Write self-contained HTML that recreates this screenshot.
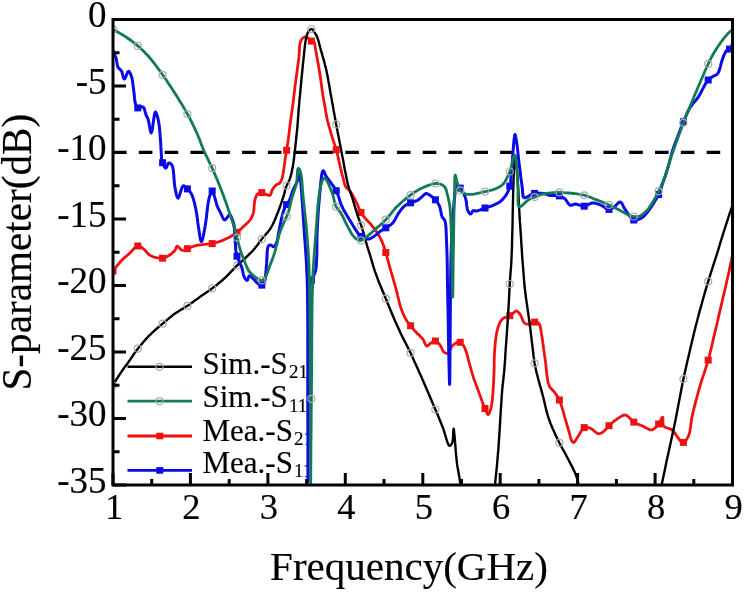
<!DOCTYPE html>
<html><head><meta charset="utf-8"><title>S-parameter vs Frequency</title>
<style>html,body{margin:0;padding:0;background:#fff;width:750px;height:593px;overflow:hidden}svg{display:block}</style>
</head><body>
<svg width="750" height="593" viewBox="0 0 750 593">
<defs><clipPath id="pc"><rect x="113" y="19.5" width="619.5" height="465.5"/></clipPath></defs>
<g font-family="'Liberation Serif','Times New Roman',serif" fill="#000" stroke="#000" stroke-width="0.15">
<text x="202.5" y="374.0" font-size="31">Sim.-S<tspan font-size="19" dx="1.2" dy="4.2">21</tspan></text>
<text x="202.5" y="407.4" font-size="31">Sim.-S<tspan font-size="19" dx="1.2" dy="4.2">11</tspan></text>
<text x="202.5" y="440.9" font-size="31">Mea.-S<tspan font-size="19" dx="1.2" dy="4.2">21</tspan></text>
<text x="202.5" y="472.6" font-size="31">Mea.-S<tspan font-size="19" dx="1.2" dy="4.2">11</tspan></text>
</g>
<line x1="113" y1="152.4" x2="732.5" y2="152.4" stroke="#000" stroke-width="3.2" stroke-dasharray="13.6 12.21"/>
<g clip-path="url(#pc)">
<path d="M113.0 271.0L114.4 269.3L115.7 267.5L117.1 265.7L118.5 264.0L119.9 262.3L121.3 260.7L122.6 259.4L124.0 258.1L125.4 256.9L126.7 255.8L128.1 254.6L129.5 253.4L130.9 252.0L132.3 250.5L133.7 248.9L135.1 247.5L136.4 246.5L137.8 246.0L138.9 246.1L139.9 246.4L141.0 247.0L142.0 247.7L143.0 248.5L144.0 249.3L145.0 250.2L146.0 251.3L146.9 252.5L147.9 253.6L149.0 254.6L150.2 255.5L152.0 256.3L154.1 257.1L156.3 257.6L158.6 258.0L160.7 258.2L162.6 258.2L163.8 258.0L164.9 257.7L165.9 257.2L166.9 256.7L167.8 256.1L168.8 255.5L169.9 254.8L171.1 254.0L172.2 253.1L173.2 252.1L174.2 251.2L175.0 250.3L175.5 249.5L175.8 248.7L176.1 247.8L176.3 247.1L176.7 246.5L177.1 246.2L177.8 246.4L178.6 247.1L179.4 248.0L180.3 249.0L181.3 249.9L182.2 250.3L183.1 250.3L184.0 250.1L184.9 249.8L185.8 249.3L186.8 248.9L187.8 248.5L189.3 248.0L190.8 247.4L192.4 246.8L194.1 246.2L195.9 245.7L197.7 245.2L200.0 244.8L202.4 244.6L204.9 244.4L207.4 244.2L209.8 244.0L212.2 243.6L214.3 243.1L216.4 242.5L218.5 241.9L220.6 241.2L222.6 240.4L224.6 239.5L226.7 238.5L228.9 237.4L231.1 236.2L233.2 234.9L235.1 233.6L237.0 232.3L238.5 231.2L239.9 230.0L241.2 228.8L242.4 227.6L243.6 226.4L244.8 225.3L245.8 224.4L246.7 223.5L247.6 222.7L248.5 221.8L249.3 220.9L250.0 220.0L250.7 219.0L251.3 218.1L251.8 217.0L252.3 216.0L252.8 214.8L253.2 213.6L253.6 211.7L253.9 209.5L254.1 207.2L254.2 204.9L254.5 202.7L254.8 200.8L255.1 199.5L255.4 198.3L255.8 197.2L256.2 196.1L256.6 195.2L257.2 194.4L257.8 193.9L258.4 193.4L259.1 193.0L259.8 192.8L260.5 192.6L261.2 192.5L262.0 192.6L262.8 192.9L263.6 193.3L264.4 193.7L265.2 194.1L266.0 194.4L266.7 194.6L267.4 194.9L268.1 195.2L268.8 195.3L269.4 195.4L270.0 195.2L270.5 194.7L270.9 193.8L271.3 192.8L271.6 191.7L271.9 190.6L272.4 189.6L273.0 188.7L273.6 187.8L274.3 187.0L275.0 186.1L275.7 185.4L276.4 184.8L276.9 184.5L277.5 184.2L278.1 184.0L278.6 183.8L279.1 183.6L279.6 183.2L280.1 182.6L280.6 181.9L281.0 181.1L281.3 180.2L281.7 179.3L282.0 178.4L282.4 177.2L282.7 175.9L282.9 174.6L283.2 173.2L283.4 171.8L283.6 170.4L283.8 168.9L284.1 167.3L284.3 165.7L284.5 164.0L284.7 162.4L284.9 160.8L285.1 159.2L285.4 157.6L285.7 155.9L285.9 154.3L286.2 152.6L286.5 150.9L286.8 148.9L287.1 146.9L287.4 144.9L287.8 142.8L288.1 140.7L288.4 138.4L288.8 135.4L289.2 132.1L289.6 128.7L290.0 125.4L290.4 122.2L290.8 119.2L291.1 117.2L291.3 115.4L291.6 113.7L291.8 111.9L292.1 110.0L292.4 107.9L292.9 104.2L293.4 100.0L293.9 95.6L294.5 91.0L295.0 86.4L295.6 82.0L296.1 77.9L296.7 73.8L297.3 69.6L297.8 65.6L298.3 61.7L298.8 58.0L299.1 55.0L299.3 52.0L299.4 49.1L299.6 46.4L299.9 44.0L300.4 42.0L300.7 41.1L301.1 40.3L301.4 39.6L301.9 39.0L302.3 38.5L302.8 38.0L303.3 37.7L303.8 37.4L304.3 37.1L304.9 36.9L305.4 36.9L306.0 36.9L306.9 37.3L307.9 38.0L308.9 38.8L309.8 39.8L310.8 40.6L311.6 41.2L312.1 41.4L312.5 41.5L312.9 41.5L313.3 41.6L313.7 41.7L314.0 42.0L314.5 42.8L314.8 44.0L315.0 45.4L315.2 46.9L315.4 48.5L315.6 50.0L316.0 52.0L316.4 54.0L316.8 56.2L317.2 58.4L317.6 60.6L318.0 62.8L318.4 65.1L318.8 67.5L319.2 69.9L319.6 72.3L320.0 74.7L320.4 77.2L320.8 80.1L321.2 83.0L321.6 86.1L322.0 89.1L322.4 92.0L322.8 94.8L323.2 97.1L323.6 99.4L324.0 101.6L324.4 103.8L324.8 105.9L325.2 107.9L325.5 109.6L325.7 111.1L325.9 112.7L326.2 114.2L326.4 115.8L326.8 117.6L327.4 120.3L328.2 123.1L329.0 126.2L329.9 129.2L330.7 132.3L331.6 135.2L332.4 137.8L333.2 140.4L334.1 142.9L334.9 145.4L335.7 147.9L336.4 150.4L337.0 152.7L337.6 155.0L338.1 157.3L338.6 159.5L339.1 161.8L339.6 164.0L340.1 166.2L340.6 168.3L341.2 170.5L341.7 172.7L342.2 174.8L342.8 176.8L343.3 178.7L343.8 180.6L344.2 182.5L344.7 184.3L345.3 185.9L346.0 187.2L346.5 187.8L347.0 188.2L347.5 188.6L348.1 189.0L348.6 189.4L349.2 190.0L350.2 191.3L351.3 193.0L352.4 194.8L353.5 196.8L354.6 198.8L355.6 200.8L356.7 202.9L357.7 205.2L358.6 207.5L359.6 209.7L360.6 211.8L361.7 213.7L362.5 214.9L363.4 216.1L364.3 217.1L365.1 218.1L366.0 219.1L366.8 220.0L367.4 220.7L368.0 221.3L368.6 221.9L369.2 222.5L369.8 223.1L370.5 223.9L371.7 225.4L373.1 227.2L374.6 229.2L376.1 231.2L377.4 233.2L378.6 235.0L379.4 236.4L380.1 237.7L380.8 239.1L381.4 240.4L382.0 241.7L382.6 243.1L383.2 244.6L383.7 246.0L384.2 247.5L384.7 249.1L385.2 250.6L385.7 252.2L386.2 254.0L386.7 255.8L387.2 257.7L387.7 259.6L388.2 261.5L388.7 263.4L389.3 265.5L389.9 267.6L390.5 269.7L391.1 271.9L391.8 274.0L392.4 276.2L393.1 278.5L393.7 280.8L394.4 283.2L395.1 285.6L395.7 288.0L396.4 290.4L397.1 293.1L397.7 295.8L398.4 298.6L399.0 301.4L399.7 304.0L400.5 306.6L401.2 308.8L402.0 310.9L402.8 313.0L403.7 315.0L404.6 316.9L405.5 318.7L406.3 320.0L407.1 321.3L407.9 322.4L408.8 323.5L409.7 324.7L410.6 325.8L411.6 327.0L412.6 328.2L413.6 329.4L414.6 330.6L415.7 331.8L416.7 332.9L417.7 333.9L418.8 334.9L419.9 335.9L420.9 336.9L421.9 337.9L422.8 339.0L423.6 340.2L424.2 341.7L424.8 343.2L425.4 344.5L426.1 345.5L426.8 346.0L427.4 345.9L428.1 345.5L428.8 344.9L429.5 344.2L430.2 343.5L430.9 343.0L431.6 342.6L432.3 342.1L433.1 341.6L433.8 341.2L434.6 341.0L435.3 341.0L436.1 341.3L436.9 341.8L437.7 342.5L438.5 343.3L439.3 344.1L440.0 345.0L440.7 346.1L441.4 347.4L442.0 348.8L442.6 350.1L443.2 351.3L444.0 352.1L444.6 352.5L445.3 352.9L446.0 353.1L446.8 353.3L447.5 353.3L448.1 353.1L448.8 352.5L449.5 351.3L450.0 350.0L450.6 348.5L451.3 347.1L452.1 346.0L453.1 345.0L454.3 344.1L455.6 343.2L456.8 342.5L458.1 342.1L459.2 342.0L460.2 342.3L461.1 342.9L461.9 343.7L462.8 344.7L463.6 345.8L464.3 347.0L465.3 349.1L466.2 351.7L467.1 354.5L467.8 357.5L468.5 360.4L469.3 363.2L470.0 365.7L470.7 368.2L471.4 370.7L472.1 373.1L472.8 375.3L473.4 377.4L473.8 378.7L474.2 379.8L474.6 380.8L475.0 381.8L475.4 383.0L475.9 384.2L476.7 386.3L477.5 388.6L478.4 391.1L479.3 393.6L480.2 396.0L481.0 398.3L481.7 400.1L482.4 401.9L483.0 403.7L483.7 405.4L484.3 407.0L485.0 408.5L485.5 409.7L486.0 411.1L486.6 412.4L487.1 413.5L487.6 414.2L488.1 414.5L488.6 414.2L489.2 413.3L489.7 412.0L490.2 410.5L490.7 408.9L491.1 407.4L491.6 405.0L492.0 402.3L492.4 399.4L492.6 396.3L492.9 393.2L493.1 390.2L493.3 386.9L493.5 383.6L493.7 380.2L493.8 376.7L494.0 373.3L494.1 370.0L494.2 366.8L494.2 363.7L494.2 360.6L494.3 357.5L494.4 354.3L494.6 351.1L494.9 347.4L495.2 343.4L495.7 339.4L496.2 335.6L496.8 332.0L497.6 328.8L498.2 326.8L498.9 325.0L499.6 323.2L500.4 321.7L501.3 320.3L502.3 319.1L503.3 318.3L504.5 317.7L505.8 317.3L507.1 316.9L508.3 316.5L509.4 316.0L510.2 315.5L510.9 315.0L511.5 314.5L512.2 314.0L512.8 313.5L513.4 313.0L513.9 312.6L514.4 312.1L514.9 311.7L515.4 311.3L515.9 311.1L516.4 311.0L517.1 311.2L517.8 311.7L518.5 312.4L519.2 313.2L519.9 314.1L520.5 315.0L521.2 316.2L521.8 317.7L522.4 319.3L523.0 320.9L523.7 322.2L524.5 323.1L525.1 323.5L525.8 323.8L526.4 324.0L527.1 324.1L527.9 324.1L528.6 324.1L529.6 323.9L530.6 323.6L531.7 323.1L532.7 322.6L533.7 322.3L534.7 322.1L535.4 322.1L536.2 322.1L536.9 322.2L537.5 322.4L538.1 322.7L538.7 323.1L539.5 324.3L540.1 326.1L540.6 328.3L541.0 330.6L541.3 333.0L541.7 335.3L542.1 337.7L542.5 340.2L542.8 342.7L543.2 345.2L543.5 347.7L543.8 350.0L544.1 351.8L544.3 353.4L544.5 355.0L544.8 356.6L545.0 358.3L545.3 360.3L545.8 364.1L546.2 368.6L546.7 373.4L547.3 378.1L548.1 382.3L549.1 385.6L549.8 387.0L550.7 388.1L551.5 389.1L552.4 389.9L553.3 390.9L554.2 391.9L555.1 393.1L556.0 394.3L556.8 395.5L557.7 396.8L558.5 398.1L559.2 399.5L560.0 401.2L560.6 403.0L561.2 404.9L561.8 406.8L562.4 408.8L563.0 410.9L563.8 413.6L564.6 416.6L565.5 419.6L566.3 422.7L567.2 425.7L568.1 428.6L568.9 431.3L569.7 434.3L570.5 437.3L571.3 439.9L572.2 441.7L573.2 442.5L574.0 442.3L574.8 441.5L575.6 440.3L576.5 438.9L577.3 437.5L578.2 436.2L579.2 434.7L580.2 432.9L581.2 431.1L582.3 429.4L583.4 428.1L584.6 427.3L585.6 427.1L586.6 427.1L587.7 427.3L588.8 427.7L589.8 428.1L590.9 428.6L592.2 429.3L593.5 430.3L594.8 431.5L596.1 432.5L597.3 433.3L598.5 433.7L599.4 433.7L600.2 433.5L601.1 433.1L601.9 432.7L602.7 432.1L603.5 431.6L604.4 430.9L605.2 430.0L606.0 429.1L606.8 428.1L607.7 427.1L608.6 426.1L609.7 425.0L611.0 423.9L612.2 422.8L613.5 421.7L614.8 420.7L616.2 419.7L617.6 418.7L619.2 417.6L620.7 416.6L622.3 415.7L623.8 415.2L625.1 415.0L626.0 415.2L626.9 415.7L627.8 416.3L628.6 417.1L629.3 417.8L630.1 418.5L630.8 419.1L631.4 419.8L632.0 420.4L632.6 421.1L633.2 421.7L634.0 422.3L635.2 423.0L636.6 423.7L638.1 424.3L639.7 424.9L641.3 425.5L642.8 426.1L644.3 426.9L645.8 427.7L647.4 428.6L648.9 429.4L650.3 429.8L651.7 429.9L653.0 429.5L654.2 428.7L655.4 427.7L656.5 426.5L657.5 425.3L658.5 424.1L659.4 422.9L660.1 421.3L660.9 419.8L661.5 418.4L662.1 417.5L662.6 417.2L662.9 417.8L662.9 419.1L662.9 420.9L662.9 422.9L663.1 424.7L663.6 426.1L664.6 427.0L665.9 427.6L667.4 428.0L668.9 428.5L670.5 429.1L672.0 429.9L673.9 431.8L675.8 434.4L677.6 437.2L679.5 439.8L681.2 441.7L682.8 442.5L683.9 442.2L684.9 441.5L685.9 440.5L686.8 439.2L687.6 437.7L688.4 436.2L689.4 433.6L690.0 430.5L690.5 427.1L691.0 423.5L691.5 419.7L692.2 416.0L693.3 411.3L694.5 406.3L695.8 401.2L697.2 396.0L698.6 390.9L700.0 386.0L701.3 381.7L702.6 377.6L704.0 373.6L705.3 369.5L706.6 365.4L707.9 361.2L709.2 356.5L710.4 351.7L711.6 346.8L712.7 341.9L713.8 336.9L715.0 332.0L716.2 327.0L717.4 322.0L718.5 316.9L719.7 311.9L720.9 306.9L722.0 302.0L723.0 297.5L724.1 293.1L725.1 288.8L726.1 284.5L727.0 280.2L728.0 276.0L728.9 272.1L729.7 268.2L730.5 264.4L731.4 260.6L732.2 256.8L733.0 253.0" fill="none" stroke="#ee1111" stroke-width="2.8" stroke-linejoin="round" stroke-linecap="round"/>
<rect x="109.5" y="267.5" width="7" height="7" fill="#ee1111"/>
<rect x="134.3" y="242.5" width="7" height="7" fill="#ee1111"/>
<rect x="159.1" y="254.7" width="7" height="7" fill="#ee1111"/>
<rect x="183.9" y="245.2" width="7" height="7" fill="#ee1111"/>
<rect x="208.7" y="240.1" width="7" height="7" fill="#ee1111"/>
<rect x="233.5" y="228.8" width="7" height="7" fill="#ee1111"/>
<rect x="258.3" y="189.1" width="7" height="7" fill="#ee1111"/>
<rect x="283.1" y="146.8" width="7" height="7" fill="#ee1111"/>
<rect x="307.9" y="37.6" width="7" height="7" fill="#ee1111"/>
<rect x="332.7" y="146.2" width="7" height="7" fill="#ee1111"/>
<rect x="357.5" y="209.0" width="7" height="7" fill="#ee1111"/>
<rect x="382.3" y="249.0" width="7" height="7" fill="#ee1111"/>
<rect x="407.1" y="322.3" width="7" height="7" fill="#ee1111"/>
<rect x="431.9" y="337.5" width="7" height="7" fill="#ee1111"/>
<rect x="456.7" y="338.8" width="7" height="7" fill="#ee1111"/>
<rect x="481.5" y="405.0" width="7" height="7" fill="#ee1111"/>
<rect x="506.3" y="312.2" width="7" height="7" fill="#ee1111"/>
<rect x="531.1" y="318.6" width="7" height="7" fill="#ee1111"/>
<rect x="555.9" y="396.5" width="7" height="7" fill="#ee1111"/>
<rect x="580.7" y="424.1" width="7" height="7" fill="#ee1111"/>
<rect x="605.5" y="422.2" width="7" height="7" fill="#ee1111"/>
<rect x="630.3" y="418.6" width="7" height="7" fill="#ee1111"/>
<rect x="655.1" y="420.5" width="7" height="7" fill="#ee1111"/>
<rect x="679.9" y="438.9" width="7" height="7" fill="#ee1111"/>
<rect x="704.7" y="356.6" width="7" height="7" fill="#ee1111"/>
<path d="M113.0 385.5L113.9 384.0L114.8 382.5L115.6 381.0L116.5 379.4L117.4 378.0L118.3 376.5L119.2 375.1L120.1 373.8L121.0 372.4L121.9 371.1L122.8 369.8L123.7 368.5L124.5 367.4L125.3 366.3L126.1 365.2L126.9 364.2L127.8 363.0L128.7 361.8L130.0 359.9L131.4 357.8L132.9 355.7L134.4 353.4L136.0 351.2L137.6 349.0L139.5 346.6L141.5 344.2L143.6 341.8L145.7 339.4L147.8 337.0L150.0 334.8L152.1 332.8L154.2 330.8L156.3 329.0L158.5 327.1L160.7 325.3L162.8 323.5L164.8 321.8L166.8 320.1L168.9 318.4L170.9 316.7L172.9 315.1L175.0 313.6L177.0 312.2L179.1 310.9L181.2 309.6L183.3 308.4L185.4 307.1L187.5 305.8L189.6 304.4L191.6 302.9L193.7 301.4L195.7 299.9L197.8 298.5L199.8 297.0L201.8 295.6L203.9 294.2L205.9 292.8L207.9 291.4L210.0 290.0L212.0 288.5L214.1 286.9L216.3 285.2L218.4 283.5L220.5 281.8L222.6 280.0L224.6 278.2L226.6 276.3L228.5 274.3L230.4 272.3L232.3 270.3L234.2 268.3L236.0 266.5L237.6 265.0L239.2 263.5L240.7 262.1L242.3 260.8L243.8 259.4L245.3 258.0L246.7 256.7L248.1 255.3L249.5 254.0L250.9 252.6L252.3 251.3L253.6 249.8L254.9 248.2L256.2 246.6L257.5 244.9L258.7 243.2L260.0 241.4L261.3 239.7L262.8 237.8L264.5 236.0L266.1 234.1L267.8 232.1L269.4 230.1L270.8 228.0L272.2 225.5L273.5 222.9L274.7 220.2L275.8 217.5L276.9 214.7L278.0 212.0L279.0 209.3L280.1 206.5L281.1 203.7L282.0 201.0L282.8 198.4L283.6 196.0L284.1 194.4L284.5 192.9L284.8 191.4L285.1 190.0L285.5 188.6L286.0 187.2L286.6 185.7L287.3 184.3L288.0 182.9L288.7 181.5L289.4 180.0L290.0 178.4L290.7 176.2L291.3 173.9L291.8 171.4L292.3 168.9L292.8 166.4L293.2 164.0L293.5 161.9L293.8 159.8L294.1 157.8L294.3 155.7L294.5 153.5L294.8 151.2L295.2 147.8L295.6 144.2L296.0 140.3L296.4 136.4L296.8 132.6L297.2 128.8L297.5 125.3L297.8 121.9L298.0 118.4L298.3 115.0L298.5 111.5L298.8 107.9L299.2 103.7L299.5 99.4L300.0 95.1L300.4 90.7L300.8 86.3L301.2 82.0L301.6 77.9L302.0 73.8L302.4 69.8L302.8 65.8L303.2 61.8L303.6 58.0L304.0 54.6L304.3 51.1L304.7 47.7L305.1 44.4L305.5 41.4L306.0 38.8L306.3 37.3L306.7 36.0L307.1 34.7L307.5 33.5L307.9 32.5L308.4 31.6L308.8 31.1L309.2 30.6L309.6 30.2L310.0 29.8L310.4 29.5L310.8 29.3L311.0 29.2L311.2 29.1L311.4 29.0L311.6 29.0L311.8 29.0L312.0 29.0L312.3 29.2L312.7 29.5L313.0 30.0L313.3 30.5L313.7 31.1L314.0 31.6L314.5 32.4L315.1 33.2L315.6 34.1L316.2 35.1L316.7 36.1L317.2 37.2L317.8 38.8L318.4 40.6L318.9 42.5L319.4 44.5L319.9 46.5L320.4 48.4L320.9 50.3L321.5 52.1L322.0 53.9L322.5 55.8L323.1 57.7L323.6 59.6L324.2 61.7L324.7 63.7L325.2 65.8L325.8 67.9L326.3 70.1L326.8 72.4L327.4 75.2L327.9 78.0L328.4 81.0L329.0 84.0L329.5 87.0L330.0 90.0L330.5 93.0L331.1 96.0L331.6 98.9L332.1 101.9L332.7 104.9L333.2 107.9L333.7 110.9L334.3 113.9L334.8 116.9L335.4 120.0L335.9 123.0L336.5 126.0L337.1 129.0L337.6 131.9L338.2 134.9L338.8 137.8L339.4 140.9L340.0 144.0L340.7 147.8L341.5 151.9L342.3 156.1L343.1 160.1L343.8 163.9L344.4 167.2L344.7 169.0L345.0 170.5L345.3 172.0L345.6 173.4L345.9 174.8L346.2 176.3L346.5 177.9L346.9 179.6L347.2 181.3L347.6 183.0L348.0 184.7L348.4 186.4L349.0 188.3L349.6 190.2L350.3 192.2L351.0 194.1L351.7 196.1L352.3 198.0L352.9 199.9L353.4 201.7L354.0 203.6L354.5 205.4L355.1 207.3L355.6 209.0L356.1 210.5L356.5 211.9L356.9 213.2L357.3 214.6L357.8 216.0L358.3 217.5L359.0 219.4L359.7 221.4L360.4 223.4L361.2 225.5L361.9 227.7L362.6 229.8L363.3 232.1L364.0 234.5L364.6 236.9L365.3 239.3L365.9 241.7L366.6 244.0L367.2 246.1L367.8 248.0L368.4 250.0L369.1 252.0L369.7 254.0L370.3 256.0L371.0 258.3L371.7 260.7L372.4 263.1L373.1 265.5L373.8 267.8L374.5 270.0L375.1 271.8L375.7 273.4L376.3 275.0L376.9 276.7L377.5 278.4L378.2 280.2L379.2 282.8L380.4 285.6L381.6 288.5L382.8 291.5L384.1 294.5L385.3 297.4L386.5 300.3L387.6 303.2L388.8 306.0L390.0 308.9L391.2 311.8L392.4 314.7L393.7 317.7L395.0 320.7L396.3 323.7L397.7 326.8L399.1 329.8L400.5 332.9L402.1 336.2L403.8 339.6L405.6 343.0L407.3 346.4L409.0 349.8L410.6 353.1L412.0 356.1L413.3 359.0L414.6 361.9L415.9 364.7L417.2 367.6L418.5 370.5L419.8 373.4L421.1 376.3L422.4 379.2L423.7 382.2L425.0 385.2L426.3 388.2L427.8 391.7L429.3 395.2L430.9 398.9L432.4 402.5L433.9 406.1L435.4 409.5L436.6 412.5L437.9 415.3L439.0 418.1L440.2 421.0L441.3 423.8L442.5 426.7L443.7 430.2L445.0 434.3L446.2 438.5L447.4 442.1L448.5 444.8L449.6 445.9L450.1 445.8L450.5 445.5L451.0 445.0L451.4 444.4L451.8 443.7L452.2 442.9L452.7 440.8L453.0 437.9L453.2 434.7L453.3 431.7L453.4 429.6L453.6 428.7L453.8 429.4L454.1 431.3L454.3 433.9L454.6 437.0L454.9 440.1L455.1 442.9L455.4 445.8L455.6 448.8L455.8 451.9L456.1 455.0L456.4 458.0L456.7 461.1L457.1 464.2L457.6 467.4L458.2 470.5L458.7 473.6L459.2 476.5L459.7 479.3L460.0 481.2L460.3 483.1L460.6 484.8L460.9 486.5L461.2 488.2L461.5 490.0M494.5 490.0L494.6 489.1L494.7 488.2L494.8 487.3L494.9 486.4L495.0 485.3L495.1 484.0L495.5 480.0L496.0 474.9L496.6 469.1L497.2 462.9L497.7 456.7L498.2 451.0L498.6 445.9L498.9 440.8L499.3 435.7L499.6 430.7L499.9 425.7L500.2 420.6L500.5 415.5L500.8 410.2L501.2 405.0L501.5 399.9L501.8 394.9L502.2 390.2L502.5 386.6L502.9 383.2L503.3 380.0L503.6 376.7L504.0 373.4L504.3 370.0L504.6 366.0L504.9 362.0L505.2 357.9L505.4 353.7L505.7 349.4L506.0 345.0L506.4 339.6L506.8 334.0L507.2 328.2L507.6 322.4L507.9 316.6L508.3 311.0L508.6 305.8L508.9 300.5L509.2 295.3L509.4 290.2L509.7 285.3L510.0 280.6L510.2 277.0L510.5 273.7L510.7 270.5L511.0 267.3L511.2 264.0L511.4 260.4L511.6 255.8L511.8 251.0L512.0 246.0L512.1 240.9L512.2 235.6L512.4 230.0L512.6 222.3L512.7 213.8L512.9 205.0L513.1 196.3L513.3 188.1L513.5 180.7L513.7 175.6L513.9 170.2L514.1 165.0L514.3 160.6L514.6 157.5L514.9 156.4L515.2 157.0L515.6 158.7L515.9 161.2L516.3 164.2L516.7 167.4L517.0 170.6L517.5 177.1L518.0 185.2L518.5 194.0L518.9 202.8L519.3 210.8L519.6 217.2L519.8 219.7L519.9 221.9L520.1 223.8L520.2 225.6L520.3 227.6L520.5 230.0L520.8 234.3L521.1 239.2L521.4 244.4L521.8 249.8L522.1 255.2L522.5 260.4L522.9 265.5L523.3 270.6L523.7 275.7L524.1 280.8L524.5 285.5L525.0 290.0L525.4 293.1L525.7 296.0L526.1 298.8L526.5 301.5L526.9 304.3L527.3 307.0L527.7 309.7L528.1 312.3L528.4 314.9L528.8 317.5L529.2 320.2L529.6 323.0L530.0 326.5L530.5 330.1L530.9 333.8L531.4 337.6L531.8 341.3L532.3 345.0L532.7 348.5L533.1 352.0L533.5 355.5L534.0 359.0L534.4 362.4L535.0 365.6L535.6 368.3L536.2 370.9L536.8 373.5L537.5 376.0L538.1 378.5L538.8 381.0L539.4 383.4L540.0 385.6L540.7 387.9L541.3 390.2L542.0 392.6L542.7 395.2L543.7 399.0L544.6 403.0L545.6 407.3L546.7 411.6L547.9 415.9L549.2 420.0L550.7 423.9L552.3 427.8L554.0 431.6L555.7 435.4L557.5 439.0L559.2 442.5L560.7 445.4L562.2 448.2L563.7 450.8L565.2 453.5L566.6 456.2L568.1 459.0L569.7 462.1L571.4 465.4L573.0 468.6L574.6 471.9L575.9 475.0L577.0 478.0L577.6 480.1L578.0 482.2L578.3 484.1L578.5 486.1L578.7 488.0L579.0 490.0M660.5 490.0L660.7 489.1L660.9 488.2L661.1 487.3L661.3 486.3L661.5 485.3L661.8 484.0L662.6 480.3L663.6 475.8L664.7 470.5L665.8 465.0L667.0 459.3L668.2 453.9L669.4 448.2L670.7 442.4L672.0 436.4L673.3 430.5L674.6 424.5L675.8 418.5L677.0 412.3L678.2 405.9L679.4 399.6L680.6 393.3L681.8 387.1L683.0 381.0L684.1 375.7L685.3 370.5L686.4 365.4L687.6 360.3L688.8 355.2L690.0 350.0L691.3 344.3L692.7 338.6L694.1 332.8L695.5 327.0L697.0 321.2L698.5 315.5L700.0 309.9L701.6 304.3L703.1 298.7L704.7 293.1L706.3 287.7L707.9 282.4L709.3 277.8L710.7 273.3L712.1 269.0L713.5 264.6L714.9 260.3L716.3 256.0L717.6 251.8L718.9 247.6L720.1 243.5L721.4 239.3L722.7 235.2L724.0 231.0L725.4 226.7L726.8 222.4L728.2 218.0L729.6 213.7L731.1 209.3L732.5 205.0" fill="none" stroke="#000000" stroke-width="2.4" stroke-linejoin="round" stroke-linecap="round"/>
<circle cx="113.0" cy="385.5" r="3.5" fill="none" stroke="#ababab" stroke-width="1.2"/>
<circle cx="137.8" cy="348.7" r="3.5" fill="none" stroke="#ababab" stroke-width="1.2"/>
<circle cx="162.6" cy="323.7" r="3.5" fill="none" stroke="#ababab" stroke-width="1.2"/>
<circle cx="187.4" cy="305.9" r="3.5" fill="none" stroke="#ababab" stroke-width="1.2"/>
<circle cx="212.2" cy="288.3" r="3.5" fill="none" stroke="#ababab" stroke-width="1.2"/>
<circle cx="237.0" cy="265.6" r="3.5" fill="none" stroke="#ababab" stroke-width="1.2"/>
<circle cx="261.8" cy="239.1" r="3.5" fill="none" stroke="#ababab" stroke-width="1.2"/>
<circle cx="286.6" cy="185.7" r="3.5" fill="none" stroke="#ababab" stroke-width="1.2"/>
<circle cx="311.4" cy="29.0" r="3.5" fill="none" stroke="#ababab" stroke-width="1.2"/>
<circle cx="336.2" cy="124.4" r="3.5" fill="none" stroke="#ababab" stroke-width="1.2"/>
<circle cx="361.0" cy="225.1" r="3.5" fill="none" stroke="#ababab" stroke-width="1.2"/>
<circle cx="385.8" cy="298.6" r="3.5" fill="none" stroke="#ababab" stroke-width="1.2"/>
<circle cx="410.6" cy="353.1" r="3.5" fill="none" stroke="#ababab" stroke-width="1.2"/>
<circle cx="435.4" cy="409.5" r="3.5" fill="none" stroke="#ababab" stroke-width="1.2"/>
<circle cx="509.8" cy="284.0" r="3.5" fill="none" stroke="#ababab" stroke-width="1.2"/>
<circle cx="534.6" cy="363.3" r="3.5" fill="none" stroke="#ababab" stroke-width="1.2"/>
<circle cx="559.4" cy="442.9" r="3.5" fill="none" stroke="#ababab" stroke-width="1.2"/>
<circle cx="683.4" cy="379.1" r="3.5" fill="none" stroke="#ababab" stroke-width="1.2"/>
<circle cx="708.2" cy="281.4" r="3.5" fill="none" stroke="#ababab" stroke-width="1.2"/>
<path d="M113.5 51.0L113.6 51.3L113.6 51.7L113.7 52.0L113.8 52.3L113.9 52.7L114.0 53.1L114.3 53.8L114.6 54.6L115.0 55.5L115.4 56.4L115.8 57.3L116.1 58.3L116.5 59.8L116.7 61.4L117.0 63.1L117.3 64.8L117.7 66.3L118.2 67.6L118.6 68.2L119.2 68.7L119.7 69.2L120.3 69.6L120.8 70.1L121.3 70.7L121.9 72.0L122.4 73.7L122.9 75.6L123.3 77.3L123.8 78.5L124.4 79.0L125.0 78.5L125.7 77.0L126.4 75.2L127.1 73.3L127.8 71.9L128.5 71.3L129.1 71.5L129.6 72.2L130.2 73.2L130.7 74.4L131.2 75.7L131.6 76.9L132.1 78.8L132.5 80.9L132.8 83.2L133.1 85.6L133.4 88.0L133.7 90.3L134.0 92.8L134.3 95.5L134.5 98.2L134.8 100.8L135.2 103.0L135.7 104.8L136.0 105.5L136.3 106.2L136.6 106.8L136.9 107.2L137.3 107.6L137.8 107.9L138.5 108.0L139.4 107.7L140.4 107.3L141.3 106.9L142.2 106.8L143.0 106.9L143.8 107.7L144.3 108.9L144.8 110.5L145.2 112.2L145.7 113.8L146.1 115.1L146.4 115.9L146.8 116.5L147.1 117.1L147.5 117.8L147.8 118.5L148.1 119.3L148.6 121.4L149.2 124.3L149.7 127.4L150.2 130.2L150.7 132.2L151.2 133.0L151.9 131.4L152.6 127.6L153.2 122.5L154.0 117.5L154.7 113.6L155.4 112.0L155.9 112.4L156.5 113.6L157.0 115.2L157.6 117.2L158.1 119.3L158.5 121.3L159.0 124.0L159.4 127.0L159.7 130.2L160.0 133.5L160.2 136.8L160.5 140.0L160.7 143.4L160.9 147.0L161.1 150.6L161.3 154.0L161.4 156.8L161.6 158.9L161.7 159.4L161.7 159.7L161.7 160.0L161.8 160.3L161.9 160.6L162.0 161.0L162.4 162.1L163.0 163.6L163.6 165.2L164.3 166.7L165.0 167.8L165.7 168.2L166.2 167.8L166.7 166.9L167.2 165.7L167.7 164.5L168.2 163.5L168.8 163.0L169.3 163.0L169.8 163.1L170.4 163.5L170.9 163.9L171.4 164.5L171.9 165.1L172.8 167.6L173.4 171.2L173.8 175.5L174.1 180.1L174.5 184.3L175.0 187.9L175.5 190.1L175.9 192.4L176.4 194.6L176.9 196.4L177.5 197.7L178.1 198.2L178.8 197.3L179.6 195.1L180.5 192.2L181.4 189.3L182.3 186.9L183.3 185.8L183.9 185.8L184.6 186.2L185.3 186.7L186.0 187.5L186.7 188.2L187.4 188.9L188.1 189.6L188.8 190.4L189.6 191.2L190.2 192.0L190.9 193.0L191.5 194.1L192.4 196.0L193.1 198.2L193.8 200.6L194.5 203.2L195.1 205.8L195.7 208.5L196.3 211.8L196.9 215.3L197.4 218.9L197.8 222.5L198.3 226.0L198.8 229.2L199.2 231.7L199.6 234.5L200.0 237.1L200.5 239.4L200.9 241.0L201.4 241.6L202.0 240.9L202.6 239.1L203.2 236.5L203.8 233.4L204.4 230.2L205.0 227.1L205.7 222.6L206.4 217.5L207.0 212.0L207.6 206.7L208.3 202.0L209.1 198.2L209.6 196.5L210.1 194.9L210.6 193.4L211.2 192.1L211.7 191.3L212.2 191.0L212.6 191.2L212.9 191.9L213.3 192.8L213.6 193.9L213.9 195.0L214.3 196.1L214.8 197.6L215.3 199.4L215.8 201.2L216.3 203.1L216.8 204.9L217.4 206.5L217.9 207.6L218.4 208.7L218.9 209.7L219.4 210.7L219.9 211.7L220.5 212.7L221.1 214.0L221.8 215.6L222.5 217.1L223.2 218.5L223.9 219.5L224.6 219.9L225.1 219.8L225.6 219.4L226.2 218.8L226.7 218.0L227.2 217.4L227.7 216.8L228.1 216.4L228.4 215.9L228.8 215.4L229.1 215.0L229.5 214.8L229.8 214.7L230.4 215.2L231.1 216.4L231.7 217.9L232.3 219.3L232.7 220.4L232.9 220.9L232.9 220.9L232.9 220.9L232.9 220.9L232.9 220.9L232.9 220.9L232.9 220.9L233.0 221.1L233.1 221.7L233.4 222.6L233.6 223.7L233.9 224.9L234.1 226.0L234.4 228.3L234.6 231.0L234.8 233.9L234.9 237.0L235.1 240.0L235.3 242.7L235.5 244.8L235.6 246.9L235.7 249.0L235.9 250.9L236.2 252.8L236.5 254.5L236.8 255.7L237.2 256.8L237.6 257.9L238.1 258.9L238.6 259.9L239.0 261.0L239.5 262.1L239.9 263.1L240.4 264.2L240.9 265.2L241.4 266.3L241.8 267.5L242.2 269.0L242.6 270.7L242.9 272.4L243.3 274.1L243.7 275.6L244.2 276.9L244.6 277.7L245.1 278.5L245.6 279.3L246.1 279.9L246.6 280.3L247.1 280.4L247.5 280.0L247.9 279.2L248.2 278.1L248.6 277.0L249.0 276.1L249.5 275.7L250.1 275.8L250.8 276.2L251.5 276.9L252.2 277.7L252.9 278.5L253.6 279.2L254.2 279.8L254.8 280.4L255.3 281.1L255.9 281.7L256.5 282.3L257.1 282.8L257.8 283.3L258.7 283.9L259.5 284.4L260.3 284.8L261.1 285.1L261.8 285.1L262.3 285.0L262.7 284.7L263.1 284.4L263.5 283.9L263.9 283.4L264.2 282.8L264.9 280.7L265.4 277.9L265.7 274.5L266.0 270.9L266.3 267.2L266.6 263.9L266.8 260.7L267.0 257.2L267.1 253.7L267.3 250.5L267.7 247.9L268.3 246.2L268.6 245.8L269.0 245.5L269.4 245.2L269.9 245.1L270.3 245.0L270.7 245.0L271.2 245.2L271.7 245.5L272.2 246.0L272.7 246.4L273.1 246.7L273.6 246.8L274.1 246.6L274.7 246.1L275.2 245.4L275.7 244.5L276.2 243.6L276.6 242.7L277.2 241.0L277.7 238.9L278.0 236.7L278.4 234.3L278.8 231.9L279.2 229.5L279.8 226.9L280.3 224.1L280.9 221.2L281.5 218.5L282.2 215.9L282.8 213.6L283.2 212.2L283.6 210.9L284.1 209.7L284.5 208.6L285.0 207.5L285.5 206.4L286.1 205.4L286.7 204.5L287.3 203.7L288.0 202.8L288.6 201.9L289.2 200.8L289.9 199.2L290.6 197.3L291.2 195.3L291.9 193.3L292.5 191.4L293.2 189.6L293.9 188.2L294.6 186.8L295.3 185.5L296.0 184.2L296.6 182.9L297.2 181.6L297.7 180.2L298.1 178.6L298.5 176.9L298.8 175.5L299.2 174.6L299.5 174.2L300.0 175.3L300.4 178.0L300.8 181.9L301.1 186.4L301.5 191.1L301.8 195.5L302.2 200.9L302.6 206.7L303.0 212.7L303.4 218.8L303.8 225.0L304.2 231.0L304.6 236.9L305.1 242.9L305.5 248.8L305.9 254.7L306.3 260.6L306.6 266.5L306.8 271.9L307.1 277.1L307.2 282.2L307.4 287.5L307.5 293.4L307.6 300.0L307.7 313.7L307.8 329.7L307.8 347.3L307.8 365.4L307.8 383.3L307.8 400.0L307.8 416.0L307.9 434.0L307.9 451.8L307.9 467.1L307.9 477.9L308.0 482.0L308.1 477.9L308.1 467.1L308.2 451.8L308.3 434.0L308.4 416.0L308.5 400.0L308.6 382.9L308.8 364.2L308.9 345.3L309.1 327.4L309.3 311.8L309.5 300.0L309.5 296.5L309.5 293.6L309.5 291.0L309.5 288.7L309.7 286.4L310.1 284.0L310.8 281.7L311.7 279.5L312.8 277.3L313.9 275.2L314.8 273.1L315.5 271.0L315.9 269.2L316.1 267.5L316.3 265.8L316.4 264.0L316.5 262.1L316.6 260.0L316.8 256.0L316.9 251.5L316.9 246.5L316.9 241.4L317.0 236.2L317.2 231.0L317.5 225.2L317.8 219.2L318.2 213.1L318.6 207.0L319.1 201.1L319.6 195.5L320.1 190.6L320.5 185.1L321.1 179.8L321.6 175.3L322.3 172.0L323.1 170.7L323.5 170.9L324.0 171.6L324.5 172.6L324.9 173.8L325.5 175.0L326.0 176.0L326.6 176.9L327.2 177.8L327.9 178.7L328.6 179.6L329.3 180.6L330.0 181.6L331.0 182.9L332.0 184.3L333.0 185.7L334.1 187.2L335.1 188.8L336.1 190.5L337.2 192.9L338.2 195.6L339.1 198.4L340.0 201.2L341.0 204.0L342.1 206.7L343.3 209.2L344.7 211.7L346.1 214.1L347.5 216.5L348.9 218.8L350.2 220.9L351.2 222.5L352.1 224.0L353.0 225.5L353.8 226.9L354.7 228.3L355.6 229.6L356.4 230.8L357.1 231.9L357.8 233.1L358.6 234.2L359.4 235.1L360.4 236.0L361.6 236.8L362.9 237.6L364.3 238.2L365.8 238.7L367.2 239.0L368.5 239.1L369.6 238.9L370.6 238.5L371.6 238.0L372.6 237.3L373.5 236.7L374.5 236.0L375.5 235.2L376.6 234.4L377.6 233.5L378.6 232.6L379.6 231.8L380.6 231.0L381.5 230.4L382.3 229.9L383.1 229.4L384.0 229.0L384.8 228.5L385.7 227.9L386.8 227.2L388.1 226.5L389.3 225.7L390.5 224.9L391.7 223.9L392.8 222.9L393.9 221.5L394.9 219.8L395.9 218.0L396.8 216.2L397.8 214.4L398.8 212.8L399.8 211.5L400.7 210.2L401.7 208.9L402.8 207.7L403.8 206.6L404.9 205.7L405.9 205.0L406.9 204.4L407.9 203.9L408.9 203.5L410.0 203.0L411.0 202.6L412.0 202.2L413.0 201.9L414.1 201.6L415.1 201.3L416.1 201.0L417.0 200.6L417.7 200.2L418.4 199.7L419.1 199.2L419.8 198.7L420.4 198.1L421.1 197.6L421.9 196.9L422.8 196.0L423.6 195.2L424.5 194.4L425.4 193.8L426.2 193.5L426.9 193.5L427.5 193.8L428.2 194.1L428.9 194.6L429.5 195.0L430.2 195.5L431.0 196.1L431.9 196.7L432.8 197.4L433.7 198.1L434.5 198.9L435.3 199.7L436.1 200.6L436.8 201.5L437.5 202.5L438.2 203.6L438.8 204.7L439.4 205.9L440.0 207.6L440.4 209.4L440.8 211.4L441.2 213.4L441.6 215.2L442.1 216.7L442.5 217.5L443.0 218.1L443.5 218.6L444.0 219.2L444.4 219.8L444.8 220.7L445.4 222.9L445.8 225.6L446.0 228.7L446.2 232.2L446.3 236.0L446.5 240.0L446.8 248.0L447.1 257.2L447.3 267.3L447.4 278.0L447.6 289.0L447.8 300.0L448.1 315.2L448.4 333.4L448.7 351.9L449.1 368.3L449.4 380.0L449.6 384.5L449.8 379.9L449.9 368.0L450.0 351.4L450.2 332.8L450.3 314.8L450.4 300.0L450.5 290.8L450.6 282.0L450.7 273.6L450.8 265.5L451.0 257.7L451.2 250.0L451.4 243.7L451.7 237.7L452.0 231.7L452.3 226.0L452.6 220.4L453.0 215.0L453.4 210.4L453.8 205.6L454.2 201.0L454.7 196.7L455.1 192.9L455.5 190.0L455.6 189.0L455.7 188.0L455.7 187.2L455.8 186.4L456.0 185.9L456.3 185.6L456.7 185.6L457.2 185.8L457.8 186.1L458.5 186.6L459.1 187.0L459.6 187.5L460.1 188.0L460.6 188.5L461.1 189.0L461.5 189.6L462.0 190.3L462.4 191.0L463.0 192.1L463.6 193.4L464.2 194.7L464.8 196.1L465.3 197.6L465.8 199.1L466.2 201.0L466.5 203.0L466.7 205.2L467.0 207.2L467.3 209.1L467.8 210.6L468.2 211.4L468.6 212.2L469.1 212.9L469.6 213.5L470.0 213.9L470.5 214.0L470.9 213.8L471.4 213.2L471.8 212.5L472.2 211.7L472.7 211.0L473.2 210.6L473.6 210.5L474.1 210.6L474.5 210.8L475.0 210.9L475.5 211.1L476.1 211.1L477.3 210.9L478.7 210.4L480.3 209.9L481.9 209.2L483.5 208.6L485.0 208.0L486.4 207.5L487.8 207.1L489.2 206.7L490.6 206.3L492.0 205.8L493.4 205.2L494.8 204.6L496.2 203.9L497.6 203.2L499.0 202.4L500.3 201.5L501.5 200.5L502.9 199.1L504.2 197.6L505.5 195.9L506.6 194.1L507.7 192.2L508.6 190.2L509.4 187.7L510.0 185.0L510.5 182.2L510.8 179.3L511.1 176.2L511.5 173.0L512.0 168.5L512.3 163.4L512.6 158.2L512.9 153.0L513.3 148.3L513.6 144.3L513.8 142.1L514.0 139.9L514.3 137.9L514.5 136.1L514.7 134.9L515.0 134.5L515.2 134.8L515.5 135.6L515.7 136.8L516.0 138.3L516.2 139.9L516.5 141.5L517.0 144.7L517.5 148.6L517.9 152.8L518.4 157.3L518.9 161.7L519.4 165.8L519.9 169.6L520.4 173.4L520.8 177.2L521.3 180.9L521.8 184.3L522.2 187.4L522.4 189.4L522.6 191.5L522.7 193.5L522.9 195.2L523.2 196.5L523.7 197.4L524.0 197.6L524.4 197.7L524.7 197.7L525.1 197.7L525.5 197.6L526.0 197.5L526.9 197.1L527.9 196.5L529.1 195.8L530.3 195.0L531.5 194.3L532.8 193.8L534.4 193.5L536.3 193.3L538.1 193.2L540.0 193.2L541.9 193.3L543.5 193.5L544.7 193.7L545.7 194.1L546.7 194.4L547.8 194.8L548.8 195.2L549.9 195.4L551.3 195.5L552.7 195.5L554.2 195.4L555.6 195.4L557.1 195.4L558.4 195.6L559.6 195.9L560.7 196.4L561.8 196.9L562.8 197.4L563.8 198.1L564.8 198.8L565.8 199.8L566.6 201.0L567.5 202.3L568.3 203.6L569.2 204.6L570.1 205.2L570.9 205.3L571.8 205.2L572.6 204.8L573.5 204.5L574.4 204.2L575.4 204.1L576.7 204.3L578.1 204.7L579.6 205.2L581.1 205.7L582.6 206.1L584.0 206.2L585.4 205.9L586.8 205.3L588.3 204.6L589.7 203.9L591.1 203.3L592.5 203.0L593.9 203.0L595.4 203.3L596.8 203.6L598.2 204.1L599.6 204.7L601.0 205.2L602.3 205.9L603.6 206.7L604.9 207.6L606.1 208.5L607.3 209.1L608.5 209.4L609.4 209.4L610.3 209.1L611.2 208.8L612.1 208.3L612.9 207.8L613.8 207.3L614.9 206.5L616.0 205.3L617.1 204.1L618.2 203.0L619.2 202.2L620.2 202.0L621.0 202.4L621.8 203.3L622.5 204.5L623.1 205.8L623.8 207.2L624.5 208.4L625.2 209.5L625.9 210.6L626.5 211.7L627.2 212.7L627.9 213.8L628.7 214.8L629.5 215.8L630.3 216.9L631.2 218.0L632.1 218.9L633.1 219.7L634.1 220.1L635.2 220.2L636.5 220.1L637.8 219.7L639.1 219.2L640.3 218.6L641.5 218.0L642.7 217.2L643.8 216.3L644.8 215.2L645.9 214.0L646.9 212.8L647.9 211.6L649.0 210.1L650.2 208.5L651.3 206.9L652.3 205.2L653.3 203.6L654.3 202.0L655.1 200.7L655.8 199.5L656.6 198.3L657.3 197.1L657.9 195.9L658.6 194.5L659.4 192.7L660.1 190.9L660.8 188.9L661.5 186.9L662.2 184.8L662.9 182.8L663.7 180.6L664.5 178.3L665.3 176.0L666.0 173.7L666.8 171.3L667.6 168.8L668.5 165.8L669.3 162.7L670.1 159.5L671.0 156.3L671.8 153.1L672.7 150.2L673.5 147.8L674.3 145.5L675.1 143.3L676.0 141.1L676.8 138.9L677.7 136.7L678.6 134.3L679.5 131.9L680.3 129.5L681.3 127.1L682.2 124.7L683.2 122.3L684.3 119.7L685.4 117.1L686.5 114.5L687.7 111.9L689.0 109.4L690.3 107.1L691.6 105.3L692.9 103.6L694.3 102.0L695.7 100.4L697.1 98.7L698.4 96.9L700.0 94.3L701.5 91.4L703.0 88.4L704.5 85.5L706.0 82.9L707.5 80.8L708.3 79.9L709.2 79.1L710.0 78.4L710.8 77.8L711.7 77.3L712.5 76.7L713.3 76.2L714.2 75.8L715.1 75.4L716.0 75.0L716.8 74.5L717.6 73.7L718.7 71.8L719.6 69.4L720.4 66.6L721.1 63.7L721.9 60.9L722.7 58.5L723.3 56.9L723.9 55.4L724.6 53.9L725.2 52.5L725.9 51.4L726.7 50.4L727.3 49.9L728.0 49.6L728.8 49.4L729.5 49.1L730.2 48.8L730.7 48.4L731.2 47.7L731.5 46.9L731.8 46.0L732.0 45.1L732.2 44.2L732.5 43.3" fill="none" stroke="#0b0be6" stroke-width="3.0" stroke-linejoin="round" stroke-linecap="round"/>
<rect x="134.3" y="104.4" width="7" height="7" fill="#0b0be6"/>
<rect x="159.1" y="159.2" width="7" height="7" fill="#0b0be6"/>
<rect x="183.9" y="185.4" width="7" height="7" fill="#0b0be6"/>
<rect x="208.7" y="187.5" width="7" height="7" fill="#0b0be6"/>
<rect x="233.5" y="252.7" width="7" height="7" fill="#0b0be6"/>
<rect x="258.3" y="281.6" width="7" height="7" fill="#0b0be6"/>
<rect x="283.1" y="201.1" width="7" height="7" fill="#0b0be6"/>
<rect x="307.9" y="276.7" width="7" height="7" fill="#0b0be6"/>
<rect x="332.7" y="187.2" width="7" height="7" fill="#0b0be6"/>
<rect x="357.5" y="232.9" width="7" height="7" fill="#0b0be6"/>
<rect x="382.3" y="224.3" width="7" height="7" fill="#0b0be6"/>
<rect x="407.1" y="199.3" width="7" height="7" fill="#0b0be6"/>
<rect x="431.9" y="196.3" width="7" height="7" fill="#0b0be6"/>
<rect x="456.7" y="184.6" width="7" height="7" fill="#0b0be6"/>
<rect x="481.5" y="204.5" width="7" height="7" fill="#0b0be6"/>
<rect x="506.3" y="182.6" width="7" height="7" fill="#0b0be6"/>
<rect x="531.1" y="189.9" width="7" height="7" fill="#0b0be6"/>
<rect x="555.9" y="192.4" width="7" height="7" fill="#0b0be6"/>
<rect x="580.7" y="202.7" width="7" height="7" fill="#0b0be6"/>
<rect x="605.5" y="205.9" width="7" height="7" fill="#0b0be6"/>
<rect x="630.3" y="216.5" width="7" height="7" fill="#0b0be6"/>
<rect x="655.1" y="191.0" width="7" height="7" fill="#0b0be6"/>
<rect x="679.9" y="118.3" width="7" height="7" fill="#0b0be6"/>
<rect x="704.7" y="76.5" width="7" height="7" fill="#0b0be6"/>
<rect x="726.1" y="45.6" width="7" height="7" fill="#0b0be6"/>
<path d="M113.0 29.4L115.1 30.6L117.2 31.7L119.2 32.9L121.3 34.1L123.4 35.3L125.4 36.6L127.5 38.0L129.6 39.5L131.7 41.0L133.7 42.6L135.8 44.2L137.8 45.9L139.9 47.8L142.0 49.7L144.1 51.8L146.2 53.9L148.2 56.0L150.2 58.3L152.3 60.9L154.4 63.5L156.5 66.3L158.5 69.1L160.6 71.9L162.6 74.8L164.7 77.8L166.8 80.8L168.8 83.9L170.9 87.0L173.0 90.2L175.0 93.4L177.2 96.8L179.4 100.4L181.6 103.9L183.7 107.5L185.8 111.1L187.8 114.7L189.6 118.1L191.4 121.6L193.1 125.0L194.7 128.4L196.2 131.7L197.7 135.0L198.8 137.7L199.9 140.3L200.8 142.9L201.8 145.5L202.8 148.1L203.9 150.7L205.2 153.6L206.6 156.4L208.0 159.3L209.4 162.3L210.8 165.2L212.2 168.2L213.6 171.4L215.0 174.6L216.4 177.9L217.8 181.2L219.2 184.5L220.5 187.9L221.9 191.6L223.4 195.5L224.8 199.5L226.2 203.3L227.5 207.1L228.7 210.6L229.6 213.2L230.4 215.7L231.3 218.0L232.0 220.4L232.8 222.7L233.5 225.0L234.2 227.2L234.8 229.4L235.4 231.5L235.9 233.7L236.5 235.8L237.1 238.0L237.7 240.2L238.2 242.4L238.8 244.6L239.4 246.8L240.0 248.9L240.6 250.9L241.2 252.6L241.7 254.2L242.3 255.7L242.9 257.3L243.5 258.8L244.2 260.4L244.9 262.2L245.6 264.1L246.4 266.0L247.2 267.8L248.0 269.5L248.9 271.0L249.6 272.0L250.4 272.8L251.2 273.6L252.0 274.3L252.8 275.0L253.6 275.7L254.4 276.4L255.2 277.0L256.0 277.6L256.7 278.2L257.5 278.8L258.3 279.2L258.9 279.5L259.5 279.8L260.1 280.1L260.7 280.3L261.2 280.4L261.8 280.4L262.4 280.2L263.1 279.7L263.7 279.2L264.3 278.5L264.8 277.7L265.4 276.9L266.3 275.4L267.1 273.6L267.8 271.5L268.6 269.4L269.3 267.2L270.1 265.1L270.9 263.0L271.7 260.9L272.5 258.8L273.3 256.7L274.0 254.5L274.8 252.1L275.7 248.9L276.5 245.6L277.4 242.0L278.2 238.5L279.1 234.9L280.2 231.5L281.5 228.1L282.9 224.8L284.4 221.5L285.9 218.2L287.3 215.0L288.4 212.0L289.1 209.7L289.6 207.6L290.1 205.5L290.6 203.5L291.0 201.4L291.6 199.2L292.4 196.6L293.2 194.0L294.1 191.3L295.0 188.6L295.8 185.9L296.4 183.2L296.8 180.4L297.1 177.2L297.3 174.0L297.5 171.2L297.8 169.1L298.3 168.3L298.6 168.4L299.0 168.8L299.4 169.4L299.8 170.2L300.2 171.1L300.5 172.0L301.1 174.7L301.6 178.1L302.0 182.1L302.3 186.5L302.6 191.1L303.0 195.5L303.6 201.0L304.2 206.8L304.8 212.8L305.5 218.9L306.1 225.0L306.6 231.0L307.1 236.6L307.5 241.8L307.9 247.1L308.3 252.7L308.7 258.9L309.0 266.0L309.5 283.7L309.8 305.4L310.0 329.6L310.2 354.5L310.3 378.5L310.4 400.0L310.5 416.9L310.5 435.3L310.6 453.1L310.6 468.4L310.7 479.0L310.7 483.0L310.7 480.9L310.8 475.2L310.8 467.1L310.9 457.8L310.9 448.4L311.0 440.0L311.1 431.8L311.2 423.5L311.2 415.2L311.3 406.5L311.4 397.5L311.5 388.0L311.6 374.1L311.7 358.7L311.8 342.6L311.9 326.8L312.0 312.3L312.2 300.0L312.3 294.1L312.5 288.9L312.6 284.2L312.7 279.6L312.9 275.0L313.2 269.9L313.6 263.7L314.0 257.1L314.5 250.5L315.0 243.8L315.5 237.3L316.0 231.0L316.4 225.5L316.8 220.0L317.2 214.6L317.6 209.4L318.0 204.5L318.5 200.0L318.9 197.1L319.2 194.4L319.6 191.8L320.0 189.4L320.4 187.1L321.0 185.0L321.5 183.5L322.0 181.9L322.5 180.4L323.1 179.1L323.7 178.2L324.3 177.8L324.7 177.9L325.2 178.2L325.6 178.8L326.1 179.4L326.5 180.2L327.0 181.0L328.0 182.9L329.1 185.3L330.2 188.0L331.3 190.8L332.4 193.5L333.2 196.0L333.7 197.7L334.0 199.4L334.3 201.0L334.6 202.6L335.0 204.1L335.6 205.6L336.4 207.0L337.2 208.3L338.2 209.6L339.2 210.8L340.2 212.1L341.2 213.6L342.3 215.6L343.3 217.7L344.4 219.9L345.4 222.1L346.5 224.3L347.6 226.4L348.6 228.3L349.6 230.2L350.6 232.1L351.7 233.9L352.8 235.4L354.0 236.8L355.0 237.7L356.0 238.6L357.1 239.4L358.2 240.0L359.3 240.4L360.4 240.5L361.4 240.3L362.4 239.9L363.4 239.3L364.4 238.6L365.4 237.8L366.4 237.0L367.7 236.0L369.0 234.9L370.3 233.8L371.7 232.5L373.1 231.3L374.5 230.0L376.3 228.4L378.1 226.8L380.0 225.2L382.0 223.4L383.9 221.6L385.7 219.8L387.6 217.7L389.4 215.5L391.2 213.3L393.0 211.0L394.8 208.8L396.8 206.7L398.9 204.7L401.1 202.7L403.3 200.8L405.6 198.9L407.8 197.1L410.0 195.5L411.8 194.2L413.6 192.9L415.4 191.7L417.3 190.6L419.1 189.5L421.1 188.5L423.4 187.4L425.9 186.4L428.5 185.3L431.0 184.5L433.3 183.8L435.3 183.5L436.4 183.4L437.4 183.5L438.3 183.6L439.1 183.8L440.0 184.0L440.8 184.3L441.5 184.6L442.3 185.0L443.0 185.4L443.6 185.8L444.2 186.4L444.8 187.0L445.4 188.0L445.9 189.3L446.4 190.6L446.8 192.1L447.1 193.6L447.5 195.1L448.0 196.9L448.4 198.7L448.8 200.6L449.2 202.6L449.6 204.7L449.9 207.0L450.3 210.8L450.6 215.0L450.8 219.6L451.0 224.4L451.2 229.6L451.4 235.0L451.7 245.4L451.9 258.5L452.2 272.2L452.4 284.6L452.5 293.6L452.7 297.0L452.8 294.8L452.9 289.1L453.0 281.0L453.1 271.8L453.2 262.8L453.3 255.0L453.4 249.0L453.5 243.0L453.6 237.1L453.7 231.3L453.8 225.6L453.9 220.0L454.0 214.7L454.1 209.4L454.2 204.2L454.3 199.2L454.5 194.4L454.6 190.0L454.7 186.9L454.7 183.5L454.7 180.3L454.8 177.6L455.0 175.7L455.2 175.0L455.4 175.3L455.7 176.2L456.0 177.4L456.3 178.9L456.7 180.3L457.0 181.6L457.4 183.0L457.7 184.4L458.1 185.9L458.6 187.3L459.1 188.6L459.7 189.7L460.3 190.4L460.8 191.1L461.5 191.7L462.2 192.2L462.9 192.7L463.7 193.1L464.7 193.5L465.7 193.8L466.8 194.1L468.0 194.3L469.2 194.4L470.5 194.4L472.6 194.3L474.9 193.9L477.4 193.4L480.0 192.8L482.4 192.2L484.7 191.7L486.5 191.3L488.3 190.9L490.0 190.5L491.6 190.1L493.2 189.6L494.8 189.0L496.3 188.4L497.7 187.7L499.2 187.0L500.5 186.2L501.8 185.3L502.9 184.3L503.8 183.3L504.6 182.2L505.3 181.0L506.0 179.8L506.6 178.6L507.2 177.3L507.9 176.0L508.5 174.6L509.1 173.2L509.7 171.7L510.3 170.2L510.8 168.7L511.3 166.8L511.8 164.7L512.3 162.5L512.7 160.4L513.1 158.6L513.6 157.2L513.8 156.7L514.1 156.2L514.3 155.7L514.6 155.4L514.8 155.2L515.0 155.1L515.4 155.7L515.7 157.0L515.9 158.9L516.1 161.2L516.3 163.6L516.5 165.8L516.8 169.0L517.1 172.5L517.3 176.2L517.5 180.0L517.7 183.8L517.9 187.4L518.0 190.9L517.9 194.7L517.9 198.4L517.9 201.8L518.1 204.4L518.7 206.0L519.0 206.3L519.2 206.4L519.5 206.5L519.9 206.6L520.2 206.5L520.5 206.5L520.9 206.4L521.3 206.1L521.7 205.8L522.1 205.4L522.5 205.0L523.0 204.6L523.8 203.9L524.6 203.1L525.5 202.3L526.5 201.4L527.5 200.6L528.5 199.9L529.6 199.2L530.9 198.6L532.1 198.1L533.4 197.6L534.6 197.1L535.8 196.6L536.7 196.2L537.6 195.8L538.5 195.5L539.4 195.1L540.3 194.8L541.3 194.5L542.6 194.2L544.0 193.9L545.5 193.6L547.0 193.4L548.5 193.2L550.0 193.0L551.4 192.8L552.7 192.7L554.1 192.6L555.4 192.5L556.9 192.4L558.4 192.4L560.7 192.4L563.1 192.6L565.7 192.8L568.4 193.0L570.9 193.2L573.3 193.5L575.2 193.7L577.0 193.9L578.7 194.2L580.5 194.4L582.2 194.8L584.0 195.2L586.1 195.8L588.2 196.5L590.4 197.3L592.5 198.2L594.7 199.1L596.8 199.9L599.0 200.7L601.1 201.6L603.3 202.5L605.4 203.4L607.5 204.3L609.6 205.2L611.4 206.1L613.2 206.9L615.0 207.8L616.7 208.7L618.4 209.6L620.2 210.5L622.0 211.4L623.8 212.5L625.6 213.5L627.4 214.4L629.2 215.2L630.9 215.8L632.2 216.2L633.5 216.4L634.7 216.6L635.9 216.7L637.1 216.7L638.3 216.5L639.6 216.1L640.9 215.4L642.2 214.6L643.4 213.7L644.6 212.6L645.8 211.6L647.0 210.4L648.1 209.1L649.2 207.6L650.2 206.1L651.2 204.6L652.2 203.0L653.3 201.2L654.4 199.3L655.5 197.4L656.5 195.4L657.6 193.4L658.6 191.3L659.7 189.0L660.8 186.6L661.9 184.1L663.0 181.6L664.0 179.0L665.0 176.4L666.2 172.9L667.5 168.7L668.8 164.5L669.9 160.7L670.7 158.0L671.0 157.0L671.0 157.0L671.0 157.0L671.0 157.0L671.0 157.0L671.0 157.0L671.0 157.0L671.3 156.0L672.3 153.5L673.5 149.9L675.0 145.9L676.4 141.9L677.7 138.4L678.7 135.6L679.7 132.8L680.7 130.1L681.7 127.4L682.7 124.7L683.7 122.0L684.7 119.4L685.8 116.8L686.8 114.2L687.9 111.6L689.0 109.0L690.0 106.5L691.0 104.1L692.0 101.6L693.0 99.2L694.0 96.8L695.0 94.4L696.0 92.0L697.0 89.7L698.0 87.3L699.0 85.0L700.0 82.7L701.0 80.3L702.0 78.0L703.1 75.6L704.1 73.1L705.2 70.5L706.3 68.1L707.4 65.7L708.4 63.5L709.2 61.9L709.9 60.3L710.7 58.8L711.4 57.4L712.2 55.9L713.0 54.5L713.8 53.1L714.6 51.8L715.5 50.4L716.3 49.1L717.1 47.8L718.0 46.5L718.8 45.3L719.6 44.1L720.5 42.9L721.3 41.8L722.1 40.6L723.0 39.5L723.8 38.4L724.6 37.4L725.5 36.4L726.3 35.4L727.2 34.4L728.0 33.5L728.7 32.8L729.5 32.1L730.2 31.4L731.0 30.8L731.7 30.2L732.5 29.5" fill="none" stroke="#137a58" stroke-width="2.8" stroke-linejoin="round" stroke-linecap="round"/>
<circle cx="113.0" cy="29.4" r="3.5" fill="none" stroke="#ababab" stroke-width="1.2"/>
<circle cx="137.8" cy="45.9" r="3.5" fill="none" stroke="#ababab" stroke-width="1.2"/>
<circle cx="162.6" cy="74.8" r="3.5" fill="none" stroke="#ababab" stroke-width="1.2"/>
<circle cx="187.4" cy="114.0" r="3.5" fill="none" stroke="#ababab" stroke-width="1.2"/>
<circle cx="212.2" cy="168.2" r="3.5" fill="none" stroke="#ababab" stroke-width="1.2"/>
<circle cx="237.0" cy="237.6" r="3.5" fill="none" stroke="#ababab" stroke-width="1.2"/>
<circle cx="261.8" cy="280.4" r="3.5" fill="none" stroke="#ababab" stroke-width="1.2"/>
<circle cx="286.6" cy="216.6" r="3.5" fill="none" stroke="#ababab" stroke-width="1.2"/>
<circle cx="311.4" cy="398.8" r="3.5" fill="none" stroke="#ababab" stroke-width="1.2"/>
<circle cx="336.2" cy="206.7" r="3.5" fill="none" stroke="#ababab" stroke-width="1.2"/>
<circle cx="361.0" cy="240.4" r="3.5" fill="none" stroke="#ababab" stroke-width="1.2"/>
<circle cx="385.8" cy="219.7" r="3.5" fill="none" stroke="#ababab" stroke-width="1.2"/>
<circle cx="410.6" cy="195.1" r="3.5" fill="none" stroke="#ababab" stroke-width="1.2"/>
<circle cx="435.4" cy="183.5" r="3.5" fill="none" stroke="#ababab" stroke-width="1.2"/>
<circle cx="460.2" cy="190.4" r="3.5" fill="none" stroke="#ababab" stroke-width="1.2"/>
<circle cx="485.0" cy="191.6" r="3.5" fill="none" stroke="#ababab" stroke-width="1.2"/>
<circle cx="509.8" cy="171.5" r="3.5" fill="none" stroke="#ababab" stroke-width="1.2"/>
<circle cx="534.6" cy="197.1" r="3.5" fill="none" stroke="#ababab" stroke-width="1.2"/>
<circle cx="559.4" cy="192.4" r="3.5" fill="none" stroke="#ababab" stroke-width="1.2"/>
<circle cx="584.2" cy="195.3" r="3.5" fill="none" stroke="#ababab" stroke-width="1.2"/>
<circle cx="609.0" cy="204.9" r="3.5" fill="none" stroke="#ababab" stroke-width="1.2"/>
<circle cx="633.8" cy="216.5" r="3.5" fill="none" stroke="#ababab" stroke-width="1.2"/>
<circle cx="658.6" cy="191.3" r="3.5" fill="none" stroke="#ababab" stroke-width="1.2"/>
<circle cx="683.4" cy="122.8" r="3.5" fill="none" stroke="#ababab" stroke-width="1.2"/>
<circle cx="708.2" cy="63.9" r="3.5" fill="none" stroke="#ababab" stroke-width="1.2"/>
</g>
<line x1="127.5" y1="366.8" x2="192" y2="366.8" stroke="#000000" stroke-width="2.4"/>
<circle cx="159.5" cy="366.8" r="3.5" fill="none" stroke="#ababab" stroke-width="1.2"/>
<line x1="127.5" y1="401.2" x2="192" y2="401.2" stroke="#137a58" stroke-width="2.8"/>
<circle cx="159.5" cy="401.2" r="3.5" fill="none" stroke="#ababab" stroke-width="1.2"/>
<line x1="127.5" y1="436.0" x2="192" y2="436.0" stroke="#ee1111" stroke-width="2.8"/>
<rect x="156.3" y="432.7" width="7" height="6.6" fill="#ee1111"/>
<line x1="127.5" y1="470.4" x2="192" y2="470.4" stroke="#0b0be6" stroke-width="2.8"/>
<rect x="156.3" y="467.09999999999997" width="7" height="6.6" fill="#0b0be6"/>
<rect x="113" y="19.5" width="619.5" height="465.5" fill="none" stroke="#000" stroke-width="3"/>
<path d="M113.0 485V473M190.4 485V473M267.9 485V473M345.3 485V473M422.8 485V473M500.2 485V473M577.6 485V473M655.1 485V473M732.5 485V473M151.7 485V479M229.2 485V479M306.6 485V479M384.0 485V479M461.5 485V479M538.9 485V479M616.4 485V479M693.8 485V479M113 19.5H126M113 86.0H126M113 152.5H126M113 219.0H126M113 285.5H126M113 352.0H126M113 418.5H126M113 485.0H126M113 52.8H119.5M113 119.2H119.5M113 185.8H119.5M113 252.2H119.5M113 318.8H119.5M113 385.2H119.5M113 451.8H119.5" stroke="#000" stroke-width="3" fill="none"/>
<g font-family="'Liberation Serif','Times New Roman',serif" font-size="37" fill="#000" stroke="#000" stroke-width="0.15">
<text x="106.5" y="27.1" text-anchor="end">0</text>
<text x="106.5" y="93.6" text-anchor="end">-5</text>
<text x="106.5" y="160.1" text-anchor="end">-10</text>
<text x="106.5" y="226.6" text-anchor="end">-15</text>
<text x="106.5" y="293.1" text-anchor="end">-20</text>
<text x="106.5" y="359.6" text-anchor="end">-25</text>
<text x="106.5" y="426.1" text-anchor="end">-30</text>
<text x="106.5" y="492.6" text-anchor="end">-35</text>
</g>
<g font-family="'Liberation Serif','Times New Roman',serif" font-size="36.5" fill="#000" stroke="#000" stroke-width="0.15">
<text x="114.0" y="519.2" text-anchor="middle">1</text>
<text x="191.4" y="519.2" text-anchor="middle">2</text>
<text x="268.9" y="519.2" text-anchor="middle">3</text>
<text x="346.3" y="519.2" text-anchor="middle">4</text>
<text x="423.8" y="519.2" text-anchor="middle">5</text>
<text x="501.2" y="519.2" text-anchor="middle">6</text>
<text x="578.6" y="519.2" text-anchor="middle">7</text>
<text x="656.1" y="519.2" text-anchor="middle">8</text>
<text x="733.5" y="519.2" text-anchor="middle">9</text>
</g>
<text x="409" y="580" text-anchor="middle" font-family="'Liberation Serif','Times New Roman',serif" font-size="41" stroke="#000" stroke-width="0.15">Frequency(GHz)</text>
<text transform="translate(31 252.2) rotate(-90)" text-anchor="middle" font-family="'Liberation Serif','Times New Roman',serif" font-size="41.2" stroke="#000" stroke-width="0.15">S-parameter(dB)</text>
</svg>
</body></html>
